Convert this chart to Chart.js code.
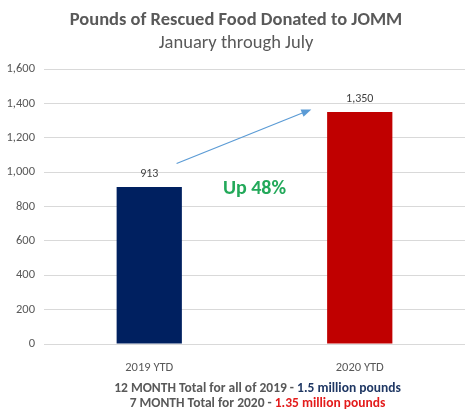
<!DOCTYPE html>
<html>
<head>
<meta charset="utf-8">
<script src="https://cdn.jsdelivr.net/npm/chart.js@4/dist/chart.umd.min.js"></script>
<style>
  html, body { margin: 0; padding: 0; background: #fff; }
  #wrap { width: 474px; height: 420px; }
</style>
</head>
<body>
<div id="wrap"><canvas id="chart" width="474" height="420"></canvas></div>
<script>
const FONT = 'Carlito, Lato, "Open Sans", sans-serif'

const categories = ['2019 YTD', '2020 YTD']
const pounds     = [913, 1350]
const barColors  = ['#002060', '#C00000']
const yTicks     = [0, 200, 400, 600, 800, 1000, 1200, 1400, 1600]

const titleText    = 'Pounds of Rescued Food Donated to JOMM'
const subtitleText = 'January through July'
const growthText   = 'Up 48%'
const footerLines  = [
  [['12 MONTH Total for all of 2019 - ', '#595959'], ['1.5 million pounds', '#203864']],
  [['7 MONTH Total for 2020 - ', '#595959'], ['1.35 million pounds', '#E31B1B']]
]

// arrow ends, in category index / value units
const arrowFrom = [0.13, 1050]
const arrowTo   = [0.77, 1365]

const fmt = v => v.toLocaleString('en-US')

const decorPlugin = {
  id: 'decor',
  afterDatasetsDraw(chart) {
    const { ctx, scales: { x, y }, chartArea } = chart
    ctx.save()

    // value labels above bars
    ctx.fillStyle = '#404040'
    ctx.font = `12px ${FONT}`
    ctx.textAlign = 'center'
    ctx.textBaseline = 'middle'
    chart.getDatasetMeta(0).data.forEach((bar, i) => {
      ctx.fillText(fmt(pounds[i]), bar.x, bar.y - 13)
    })

    // arrow
    const x1 = x.getPixelForValue(arrowFrom[0]), y1 = y.getPixelForValue(arrowFrom[1])
    const x2 = x.getPixelForValue(arrowTo[0]),   y2 = y.getPixelForValue(arrowTo[1])
    const ang = Math.atan2(y2 - y1, x2 - x1)
    ctx.strokeStyle = '#5B9BD5'
    ctx.fillStyle = '#5B9BD5'
    ctx.lineWidth = 1.2
    ctx.beginPath()
    ctx.moveTo(x1, y1)
    ctx.lineTo(x2 - 7 * Math.cos(ang), y2 - 7 * Math.sin(ang))
    ctx.stroke()
    ctx.beginPath()
    ctx.moveTo(x2, y2)
    ctx.lineTo(x2 - 10 * Math.cos(ang) + 4 * Math.sin(ang), y2 - 10 * Math.sin(ang) - 4 * Math.cos(ang))
    ctx.lineTo(x2 - 10 * Math.cos(ang) - 4 * Math.sin(ang), y2 - 10 * Math.sin(ang) + 4 * Math.cos(ang))
    ctx.closePath()
    ctx.fill()

    // growth note
    ctx.fillStyle = '#23A95A'
    ctx.font = `bold 20px ${FONT}`
    ctx.fillText(growthText, x.getPixelForValue(0.5), y.getPixelForValue(900))

    // header
    const cx = chart.width / 2 - 1
    ctx.fillStyle = '#595959'
    ctx.font = `bold 18.5px ${FONT}`
    ctx.fillText(titleText, cx, 20)
    ctx.font = `18.5px ${FONT}`
    ctx.fillText(subtitleText, cx, 43)

    // footer, two colours per line
    const fx = (chartArea.left + chartArea.right) / 2 + 3
    ctx.font = `bold 13.5px ${FONT}`
    ctx.textAlign = 'left'
    footerLines.forEach((parts, li) => {
      const total = parts.reduce((w, p) => w + ctx.measureText(p[0]).width, 0)
      let px = fx - total / 2
      parts.forEach(([txt, col]) => {
        ctx.fillStyle = col
        ctx.fillText(txt, px, 389 + li * 15)
        px += ctx.measureText(txt).width
      })
    })
    ctx.restore()
  }
}

new Chart(document.getElementById('chart'), {
  type: 'bar',
  data: {
    labels: categories,
    datasets: [{
      data: pounds,
      backgroundColor: barColors,
      barPercentage: 0.31,
      categoryPercentage: 1
    }]
  },
  options: {
    responsive: false,
    animation: false,
    layout: { padding: { top: 69, right: 9, bottom: 46, left: 0 } },
    scales: {
      x: {
        grid: { display: false },
        border: { display: false },
        ticks: { color: '#595959', font: { family: FONT, size: 12.5 }, padding: 8 },
        afterFit: s => { s.height = 30 }
      },
      y: {
        min: 0, max: 1600,
        afterBuildTicks: s => { s.ticks = yTicks.map(v => ({ value: v })) },
        grid: { color: '#D9D9D9', drawTicks: false },
        border: { display: false },
        ticks: { color: '#595959', font: { family: FONT, size: 12.5 }, padding: 9, callback: v => fmt(v) },
        afterFit: s => { s.width = 44 }
      }
    },
    plugins: {
      legend: { display: false },
      tooltip: { enabled: false }
    }
  },
  plugins: [decorPlugin]
})
</script>
</body>
</html>
